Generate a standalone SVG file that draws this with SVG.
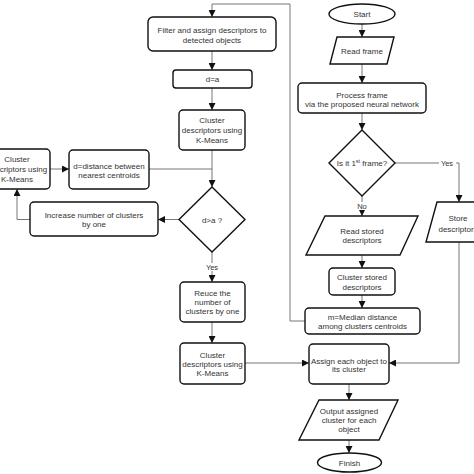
<svg xmlns="http://www.w3.org/2000/svg" width="474" height="474" viewBox="0 0 474 474">
<defs>
<marker id="arr" viewBox="0 0 10 10" refX="10" refY="5" markerWidth="7" markerHeight="7" markerUnits="userSpaceOnUse" orient="auto">
<path d="M0,0 L10,5 L0,10 z" fill="#111"/>
</marker>
<style>
.n{fill:#fff;stroke:#111;stroke-width:1.4}
.c{fill:none;stroke:#777;stroke-width:1}
.a{marker-end:url(#arr)}
text{font-family:"Liberation Sans",Arial,sans-serif;font-size:8px;fill:#333;text-anchor:middle}
.lbl{font-size:7.5px}
</style>
</defs>
<rect width="474" height="474" fill="#fff"/>
<g id="connectors">
<path class="c a" d="M362,24 V37"/>
<path class="c a" d="M362,64 V83"/>
<path class="c a" d="M362,113 V130"/>
<path class="c a" d="M362,196 V216"/>
<path class="c a" d="M395,163 H459 V202"/>
<path class="c a" d="M362,255 V268"/>
<path class="c a" d="M362,295 V308"/>
<path class="c a" d="M305,321 H290 V4 H212 V17"/>
<path class="c a" d="M212,51 V70"/>
<path class="c a" d="M212,88 V110"/>
<path class="c a" d="M212,150 V187"/>
<path class="c" d="M149,169 H212"/>
<path class="c a" d="M179,219.5 H158"/>
<path class="c a" d="M30,219.5 H17 V189"/>
<path class="c a" d="M50,169 H69"/>
<path class="c a" d="M212,252 V282"/>
<path class="c a" d="M212,322 V343"/>
<path class="c a" d="M245,363 H309"/>
<path class="c a" d="M459,242 V363 H389"/>
<path class="c a" d="M349,384 V400"/>
<path class="c a" d="M349,440 V453"/>
<rect x="354" y="202" width="16" height="8" fill="#fff"/>
<text class="lbl" x="362" y="209">No</text>
<rect x="439" y="159" width="17" height="8" fill="#fff"/>
<text class="lbl" x="447" y="166">Yes</text>
<rect x="203" y="263" width="18" height="8" fill="#fff"/>
<text class="lbl" x="212" y="270">Yes</text>
</g>
<g id="start"><ellipse class="n" cx="362" cy="14" rx="33" ry="10"/><text x="362" y="17">Start</text></g>
<g id="readframe"><polygon class="n" points="337,37 394,37 387,64 330,64"/><text x="362" y="53.5">Read frame</text></g>
<g id="process"><rect class="n" x="298" y="83" width="128" height="30" rx="4"/><text x="362" y="98">Process frame</text><text x="362" y="107">via the proposed neural network</text></g>
<g id="firstframe"><polygon class="n" points="362,130 395,163 362,196 329,163"/><text x="362" y="166">Is it 1<tspan font-size="5.5" dy="-3">st</tspan><tspan dy="3"> frame?</tspan></text></g>
<g id="store"><polygon class="n" points="437,202 500,202 490,242 426,242"/><text x="458" y="221">Store</text><text x="458" y="232">descriptors</text></g>
<g id="readstored"><polygon class="n" points="325,216 418,216 400,255 306,255"/><text x="362" y="234">Read stored</text><text x="362" y="243">descriptors</text></g>
<g id="clusterstored"><rect class="n" x="329" y="268" width="66" height="27" rx="4"/><text x="362" y="280">Cluster stored</text><text x="362" y="290">descriptors</text></g>
<g id="median"><rect class="n" x="305" y="308" width="115" height="26" rx="4"/><text x="362.5" y="320">m=Median distance</text><text x="362.5" y="329">among clusters centroids</text></g>
<g id="filter"><rect class="n" x="148" y="17" width="128" height="34" rx="5"/><text x="212" y="33">Filter and assign descriptors to</text><text x="212" y="42.5">detected objects</text></g>
<g id="da"><rect class="n" x="173" y="70" width="79" height="18" rx="3"/><text x="212.5" y="82">d=a</text></g>
<g id="cluster1"><rect class="n" x="179" y="110" width="66" height="40" rx="4"/><text x="212" y="123">Cluster</text><text x="212" y="133">descriptors using</text><text x="212" y="143">K-Means</text></g>
<g id="clusterL"><rect class="n" x="-16" y="149" width="66" height="40" rx="4"/><text x="17" y="162">Cluster</text><text x="17" y="172">descriptors using</text><text x="17" y="182">K-Means</text></g>
<g id="dist"><rect class="n" x="69" y="150" width="80" height="39" rx="4"/><text x="109" y="168.5">d=distance between</text><text x="109" y="177.5">nearest centroids</text></g>
<g id="dgta"><polygon class="n" points="212,187 245,219.5 212,252 179,219.5"/><text x="212" y="222.5">d&gt;a ?</text></g>
<g id="increase"><rect class="n" x="30" y="202" width="128" height="34" rx="4"/><text x="94" y="217.5">Increase number of clusters</text><text x="94" y="226.5">by one</text></g>
<g id="reduce"><rect class="n" x="180" y="282" width="65" height="40" rx="4"/><text x="212.5" y="295.5">Reuce the</text><text x="212.5" y="304.5">number of</text><text x="212.5" y="313.5">clusters by one</text></g>
<g id="cluster2"><rect class="n" x="180" y="343" width="65" height="41" rx="4"/><text x="212.5" y="357.5">Cluster</text><text x="212.5" y="366.5">descriptors using</text><text x="212.5" y="375.5">K-Means</text></g>
<g id="assign"><rect class="n" x="309" y="344" width="80" height="40" rx="4"/><text x="349" y="363.5">Assign each object to</text><text x="349" y="372">its cluster</text></g>
<g id="output"><polygon class="n" points="319,400 398,400 379,440 299,440"/><text x="349" y="413.5">Output assigned</text><text x="349" y="422.5">cluster for each</text><text x="349" y="431.5">object</text></g>
<g id="finish"><ellipse class="n" cx="349.5" cy="462.5" rx="32" ry="9.5"/><text x="349.5" y="465.5">Finish</text></g>
</svg>
